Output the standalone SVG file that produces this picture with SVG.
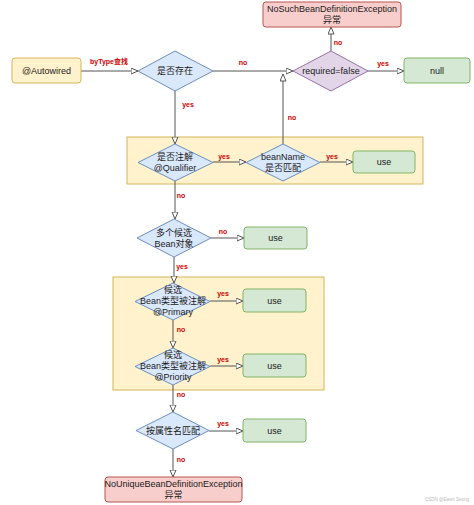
<svg xmlns="http://www.w3.org/2000/svg" width="474" height="505" viewBox="0 0 474 505">
<defs>
<marker id="arr" markerUnits="userSpaceOnUse" markerWidth="9" markerHeight="8" refX="7.5" refY="3.5" orient="auto">
<path d="M0.5,0.5 L7.5,3.5 L0.5,6.5 z" fill="#ffffff" stroke="#555555" stroke-width="1"/>
</marker>
</defs>
<style>
text{font-family:"Liberation Sans","Noto Sans CJK SC",sans-serif;}
.t{font-size:9px;fill:#1a1a1a;text-anchor:middle;dominant-baseline:central;}
.l{font-size:7px;fill:#cc0000;font-weight:bold;text-anchor:middle;dominant-baseline:central;}
.c{fill:none;stroke:#555555;stroke-width:1;marker-end:url(#arr);}
.y{fill:#fff2cc;stroke:#d6b656;stroke-width:1;}
.b{fill:#dae8fc;stroke:#6c8ebf;stroke-width:1;}
.p{fill:#e1d5e7;stroke:#9673a6;stroke-width:1;}
.g{fill:#d5e8d4;stroke:#82b366;stroke-width:1;}
.r{fill:#f8cecc;stroke:#b85450;stroke-width:1;}
</style>
<rect width="474" height="505" fill="#ffffff"/>
<g id="group1"><rect class="y" x="127" y="137" width="296" height="47"/></g>
<g id="group2"><rect class="y" x="113" y="277" width="211" height="113"/></g>
<g id="connectors">
<path class="c" d="M81,71 L138,71"/>
<path class="c" d="M213,71 L293,71"/>
<path class="c" d="M331,51 L331,27"/>
<path class="c" d="M368,71 L404,71"/>
<path class="c" d="M175,91 L175,144"/>
<path class="c" d="M283,144 L283,74"/>
<path class="c" d="M213,162 L246,162"/>
<path class="c" d="M320,162 L353,162"/>
<path class="c" d="M175,181 L175,219"/>
<path class="c" d="M211,238 L244,238"/>
<path class="c" d="M174,257 L174,283"/>
<path class="c" d="M210,301 L243,301"/>
<path class="c" d="M173,320 L173,348"/>
<path class="c" d="M210,366 L243,366"/>
<path class="c" d="M173,385 L173,412"/>
<path class="c" d="M209,431 L243,431"/>
<path class="c" d="M173,449 L173,477"/>
<text class="l" x="109" y="61">byType查找</text>
<text class="l" x="243" y="62">no</text>
<text class="l" x="338" y="42">no</text>
<text class="l" x="383" y="63">yes</text>
<text class="l" x="188" y="104">yes</text>
<text class="l" x="292" y="117">no</text>
<text class="l" x="224" y="156">yes</text>
<text class="l" x="332" y="156">yes</text>
<text class="l" x="181" y="195">no</text>
<text class="l" x="223" y="231">no</text>
<text class="l" x="182" y="266">yes</text>
<text class="l" x="223" y="293">yes</text>
<text class="l" x="181" y="329">no</text>
<text class="l" x="223" y="359">yes</text>
<text class="l" x="181" y="394">no</text>
<text class="l" x="223" y="423">yes</text>
<text class="l" x="181" y="459">no</text>
</g>
<g id="nosuch"><rect class="r" x="263" y="2" width="138" height="25" rx="3"/><text class="t" x="332" y="8.5">NoSuchBeanDefinitionException</text><text class="t" x="332" y="19.5">异常</text></g>
<g id="autowired"><rect class="y" x="12" y="58" width="69" height="25" rx="3"/><text class="t" x="46.5" y="70.5">@Autowired</text></g>
<g id="exists"><polygon class="b" points="175,51 213,71 175,91 138,71"/><text class="t" x="175" y="71">是否存在</text></g>
<g id="required"><polygon class="p" points="331,51 368,71 331,91 293,71"/><text class="t" x="331" y="71">required=false</text></g>
<g id="null"><rect class="g" x="404" y="58" width="66" height="25" rx="3"/><text class="t" x="437" y="70.5">null</text></g>
<g id="qualifier"><polygon class="b" points="175,144 213,162.5 175,181 138,162.5"/><text class="t" x="175" y="157">是否注解</text><text class="t" x="175" y="168">@Qualifier</text></g>
<g id="beanname"><polygon class="b" points="283,144 320,162.5 283,181 246,162.5"/><text class="t" x="283" y="157">beanName</text><text class="t" x="283" y="168">是否匹配</text></g>
<g id="use1"><rect class="g" x="353" y="151" width="62" height="22" rx="3"/><text class="t" x="384" y="162">use</text></g>
<g id="multi"><polygon class="b" points="174,219 211,238 174,257 137,238"/><text class="t" x="174" y="232.5">多个候选</text><text class="t" x="174" y="243.5">Bean对象</text></g>
<g id="use2"><rect class="g" x="244" y="227" width="63" height="22" rx="3"/><text class="t" x="275.5" y="238">use</text></g>
<g id="primary"><polygon class="b" points="173,283 210,301.5 173,320 135,301.5"/><text class="t" x="173" y="289.5">候选</text><text class="t" x="173" y="300.5">Bean类型被注解</text><text class="t" x="173" y="311.5">@Primary</text></g>
<g id="use3"><rect class="g" x="243" y="289" width="63" height="23" rx="3"/><text class="t" x="274.5" y="300.5">use</text></g>
<g id="priority"><polygon class="b" points="173,348 210,366.5 173,385 135,366.5"/><text class="t" x="173" y="354.5">候选</text><text class="t" x="173" y="365.5">Bean类型被注解</text><text class="t" x="173" y="376.5">@Priority</text></g>
<g id="use4"><rect class="g" x="243" y="354" width="63" height="23" rx="3"/><text class="t" x="274.5" y="365.5">use</text></g>
<g id="byname"><polygon class="b" points="173,412 209,430.5 173,449 136,430.5"/><text class="t" x="173" y="430.5">按属性名匹配</text></g>
<g id="use5"><rect class="g" x="243" y="419" width="63" height="23" rx="3"/><text class="t" x="274.5" y="430.5">use</text></g>
<g id="nounique"><rect class="r" x="105" y="477" width="137" height="25" rx="3"/><text class="t" x="173.5" y="483.5">NoUniqueBeanDefinitionException</text><text class="t" x="173.5" y="494.5">异常</text></g>
<text x="469" y="499" font-size="4.5" fill="#bbbbbb" text-anchor="end" dominant-baseline="central">CSDN @Ewen Seong</text>
</svg>
